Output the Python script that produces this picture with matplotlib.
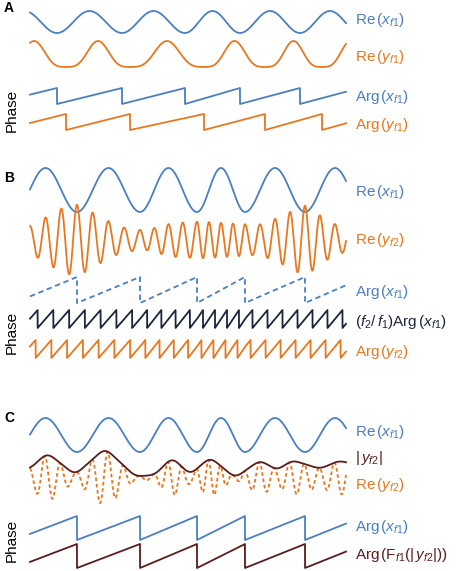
import numpy as np
import matplotlib
matplotlib.use("Agg")
import matplotlib.pyplot as plt

plt.rcParams['font.family'] = ['Liberation Sans', 'DejaVu Sans']
plt.rcParams['mathtext.fontset'] = 'custom'
plt.rcParams['mathtext.rm'] = 'Liberation Sans'
plt.rcParams['mathtext.it'] = 'Liberation Sans:italic'

BLUE = '#4a7fc1'
ORANGE = '#e8781f'
NAVY = '#1c2540'
BROWN = '#5a1c1c'

X0, X1 = 30, 346
# Phase-jump positions (px) of each periodic signal
jumps_A_x = [57, 122, 185, 240, 300]
jumps_A_y = [66, 130, 204, 265, 322]
jumps_B_x = [77, 140, 197, 245, 305]
jumps_C_x = [77, 140, 197, 245, 305]
ratio_B = 4.0
# Amplitude envelopes (px positions, relative amplitude)
envB_pos = [30, 45, 60, 77, 95, 120, 145, 170, 200, 230, 260, 290, 305, 325, 346]
envB_amp = [0.35, 0.6, 0.85, 1.0, 0.7, 0.35, 0.25, 0.45, 0.5, 0.45, 0.4, 0.75, 1.0, 0.55, 0.3]
envC_pos = [30, 47, 75, 105, 135, 155, 172, 190, 210, 235, 260, 277, 292, 320, 340, 346]
envC_amp = [0.3, 0.85, 0.1, 1.0, 0.05, 0.1, 0.7, 0.1, 0.7, 0.0, 0.6, 0.25, 0.6, 0.3, 0.6, 0.5]

x = np.linspace(X0, X1, 4000)
PX = len(x) / (X1 - X0)

def unwrapped(jumps):
    j = np.asarray(jumps, float)
    ph = np.pi + 2 * np.pi * np.arange(len(j))
    p = np.interp(x, j, ph)
    s0 = 2 * np.pi / (j[1] - j[0]); s1 = 2 * np.pi / (j[-1] - j[-2])
    p = np.where(x < j[0], ph[0] + (x - j[0]) * s0, p)
    p = np.where(x > j[-1], ph[-1] + (x - j[-1]) * s1, p)
    return p

def wrap(p):
    return (p + np.pi) % (2 * np.pi) - np.pi

def smooth_env(pos, amp, wpx):
    e = np.interp(x, pos, amp)
    w = int(wpx * PX)
    k = np.hanning(w); k /= k.sum()
    ep = np.pad(e, w, mode='edge')
    return np.convolve(ep, k, mode='same')[w:-w]

fig = plt.figure(figsize=(4.74, 5.71), dpi=100)
ax = fig.add_axes([0, 0, 1, 1])
ax.set_xlim(0, 474); ax.set_ylim(571, 0); ax.axis('off')
lw = 1.3

def lab(y, s, c, fs=11):
    ax.text(355, y, s, color=c, fontsize=fs, va='center', ha='left')

# ---- Panel A
pAx = unwrapped(jumps_A_x); pAy = unwrapped(jumps_A_y)
ax.plot(x, 22 - 11 * np.cos(pAx), color=BLUE, lw=lw)
ax.plot(x, 57 - 13 * np.cos(pAy) - 3 * np.cos(2 * pAy), color=ORANGE, lw=lw)
ax.plot(x, 96 - 8 * wrap(pAx) / np.pi, color=BLUE, lw=lw)
ax.plot(x, 122 - 8 * wrap(pAy) / np.pi, color=ORANGE, lw=lw)
ax.text(4, 8, 'A', fontsize=10, fontweight='bold', va='center')
ax.text(12, 110, 'Phase', rotation=90, fontsize=11, va='center', ha='center')
lab(20, r'Re$\,(x_{f1})$', BLUE); lab(57, r'Re$\,(y_{f1})$', ORANGE)
lab(97, r'Arg$\,(x_{f1})$', BLUE); lab(125, r'Arg$\,(y_{f1})$', ORANGE)

# ---- Panel B
pBx = unwrapped(jumps_B_x)
envB = smooth_env(envB_pos, envB_amp, 25)
ax.plot(x, 190 - 22 * np.cos(pBx), color=BLUE, lw=lw)
ax.plot(x, 240 - 37 * envB * np.cos(ratio_B * pBx), color=ORANGE, lw=lw)
ax.plot(x, 290 - 13 * wrap(pBx) / np.pi, color=BLUE, lw=lw, ls=(0, (3, 2)))
ax.plot(x, 319 - 9 * wrap(ratio_B * pBx) / np.pi, color=NAVY, lw=lw)
ax.plot(x, 349 - 9 * wrap(ratio_B * pBx + 0.8) / np.pi, color=ORANGE, lw=lw)
ax.text(4, 178, 'B', fontsize=10, fontweight='bold', va='center')
ax.text(12, 332, 'Phase', rotation=90, fontsize=11, va='center', ha='center')
lab(192, r'Re$\,(x_{f1})$', BLUE); lab(240, r'Re$\,(y_{f2})$', ORANGE)
lab(292, r'Arg$\,(x_{f1})$', BLUE)
lab(322, r'$(f_2/\,f_1)$Arg$\,(x_{f1})$', NAVY)
lab(352, r'Arg$\,(y_{f2})$', ORANGE)

# ---- Panel C
pCx = unwrapped(jumps_C_x)
envC = smooth_env(envC_pos, envC_amp, 22)
ax.plot(x, 435 - 17 * np.cos(pCx), color=BLUE, lw=lw)
ax.plot(x, 478 - 30 * envC * np.cos(ratio_B * pCx + 0.3), color=ORANGE, lw=lw, ls=(0, (2, 1.5)))
ax.plot(x, 478 - 30 * envC, color=BROWN, lw=lw)
ax.plot(x, 528 - 12 * wrap(pCx) / np.pi, color=BLUE, lw=lw)
ax.plot(x, 556 - 12 * wrap(pCx) / np.pi, color=BROWN, lw=lw)
ax.text(4, 418, 'C', fontsize=10, fontweight='bold', va='center')
ax.text(12, 540, 'Phase', rotation=90, fontsize=11, va='center', ha='center')
lab(432, r'Re$\,(x_{f1})$', BLUE); lab(458, r'$|\,y_{f2}|$', BROWN)
lab(485, r'Re$\,(y_{f2})$', ORANGE); lab(527, r'Arg$\,(x_{f1})$', BLUE)
lab(555, r'Arg$\,($F$_{f1}(|\,y_{f2}|))$', BROWN)

fig.savefig('out.png', dpi=100)
